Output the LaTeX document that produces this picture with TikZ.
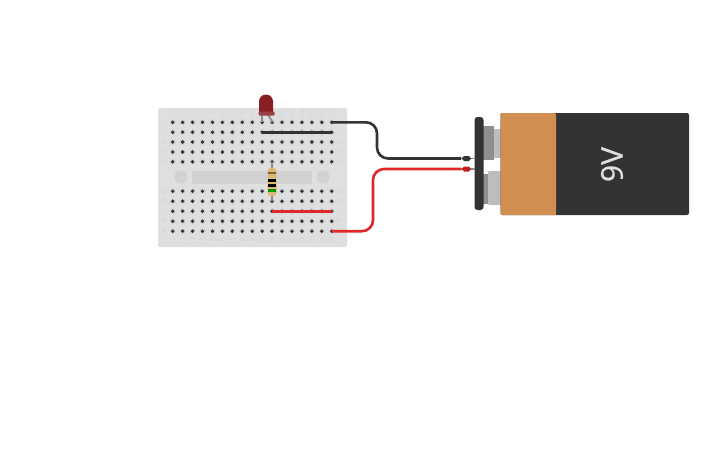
\documentclass[tikz,border=0pt]{standalone}
\usepackage{fontspec}
\setsansfont{Open Sans}
\newfontfamily\batfont[FakeBold=0.6]{Open Sans}
\usetikzlibrary{positioning}
\definecolor{boardgray}{HTML}{DFDFDF}
\definecolor{groovegray}{HTML}{D2D2D2}
\definecolor{labelgray}{HTML}{D4D4D4}
\definecolor{batdark}{HTML}{333333}
\definecolor{batorange}{HTML}{D08F50}
\definecolor{snapgray}{HTML}{8F8F8F}
\definecolor{snaplight}{HTML}{BDBDBD}
\definecolor{wirered}{HTML}{E02828}
\definecolor{ledred}{HTML}{8A1F22}
\definecolor{clipred}{HTML}{BE2024}
\definecolor{restan}{HTML}{DDB873}
\tikzset{
  holedot/.style={circle,fill=black!80,inner sep=0pt,minimum size=3.8pt},
  holehalo/.style={circle,fill=black!17,inner sep=0pt,minimum size=6pt},
  boardlabel/.style={text=labelgray,font=\sffamily\fontsize{6.5}{6.5}\selectfont,rotate=90,inner sep=0pt},
  blackwire/.style={line width=2.6pt,draw=batdark,rounded corners=11pt},
  redwire/.style={line width=2.6pt,draw=wirered,rounded corners=11pt},
  jumper/.style={line width=2.8pt},
  lead/.style={line width=1.8pt,draw=black!45},
}
\begin{document}
\begin{tikzpicture}[x=1pt,y=-1pt]
  \useasboundingbox (0,0) rectangle (725,453);
  % breadboard
  \fill[boardgray,rounded corners=1.5pt] (158,108) rectangle (347,247);
  \fill[groovegray] (192,170.5) rectangle (312,184);
  \node[circle,fill=groovegray,minimum size=13pt,inner sep=0pt] (slotl) at (181,177) {};
  \node[circle,fill=groovegray,minimum size=13pt,inner sep=0pt] (slotr) at (323,177) {};
  \foreach \c in {1,...,17}{
    \foreach \y in {122.3,132.2,142,152,161.8,191.2,201.2,211.2,221.2,231.2}{
      \node[holehalo] at ({172.7+(\c-1)*9.94},\y) {};
      \node[holedot] at ({172.7+(\c-1)*9.94},\y) {};
    }
    \node[boardlabel] at ({172.7+(\c-1)*9.94},113) {\c};
    \node[boardlabel] at ({172.7+(\c-1)*9.94},240) {\c};
  }
  \foreach \y/\t in {122.3/J,132.2/I,142/H,152/G,161.8/F,191.2/E,201.2/D,211.2/C,221.2/B,231.2/A}{
    \node[boardlabel] at (164,\y) {\t};
    \node[boardlabel] at (339,\y) {\t};
  }
  % led
  \coordinate (ledA) at (262,122.3);
  \coordinate (ledK) at (272.5,122.3);
  \draw[lead] (ledA) -- (262,112);
  \draw[lead] (ledK) -- (266.5,112);
  \fill[ledred] (259,113) -- (259,101.5) arc (180:360:7) -- (273,113) -- cycle;
  \fill[ledred!85!white,rounded corners=1pt] (258.5,111.5) rectangle (274.5,115.5);
  % resistor
  \coordinate (resT) at (272,161.8);
  \coordinate (resB) at (272,201.2);
  \draw[lead] (resT) -- (resB);
  \fill[restan,rounded corners=3.5pt] (267.5,168) rectangle (276.5,196);
  \fill[black!45!restan] (268,172) rectangle (276,174);
  \fill[black] (268,179) rectangle (276,181.5);
  \fill[black] (268,184) rectangle (276,186.5);
  \fill[green!60!black] (268,189) rectangle (276,192);
  % jumpers
  \coordinate (jmpblkA) at (262,132.2);
  \coordinate (jmpblkB) at (332,132.2);
  \coordinate (jmpredA) at (272,211.2);
  \coordinate (jmpredB) at (332,211.2);
  \draw[jumper,batdark] (jmpblkA) -- (jmpblkB);
  \draw[jumper,wirered] (jmpredA) -- (jmpredB);
  % battery
  \fill[snapgray] (483,126) rectangle (494,160);
  \fill[snaplight] (494,129) rectangle (501,158);
  \fill[snapgray] (483,174) rectangle (489,204);
  \fill[snaplight,rounded corners=1pt] (488,171) rectangle (501,205);
  \fill[batdark,rounded corners=3pt] (474.5,117) rectangle (483.5,210);
  \fill[batdark,rounded corners=2pt] (500.5,113) rectangle (689,215);
  \fill[batorange,rounded corners=2pt] (556,215) -- (500.5,215) -- (500.5,113) -- (556,113) [sharp corners] -- cycle;
  \node[text=boardgray,font=\batfont\fontsize{30}{30}\selectfont,rotate=90,inner sep=0pt] (batlabel) at (612,164.5) {9V};
  % battery clip wires
  \coordinate (blkstart) at (331.7,122.3);
  \coordinate (blkend) at (461,158.5);
  \coordinate (redstart) at (331.7,231.2);
  \coordinate (redend) at (461,169);
  \draw[black!45,line width=1.8pt] (blkend) -- (474.5,158.5);
  \draw[black!45,line width=1.8pt] (redend) -- (474.5,169);
  \draw[blackwire] (blkstart) -| (377,158.5) -- (blkend);
  \draw[redwire] (redstart) -| (373,169) -- (redend);
  \fill[batdark] (461.5,158.5) -- (464,156) -- (469,156) -- (471,158.5) -- (469,161) -- (464,161) -- cycle;
  \fill[clipred] (461.5,169) -- (464,166.5) -- (469,166.5) -- (471,169) -- (469,171.5) -- (464,171.5) -- cycle;
\end{tikzpicture}
\end{document}
